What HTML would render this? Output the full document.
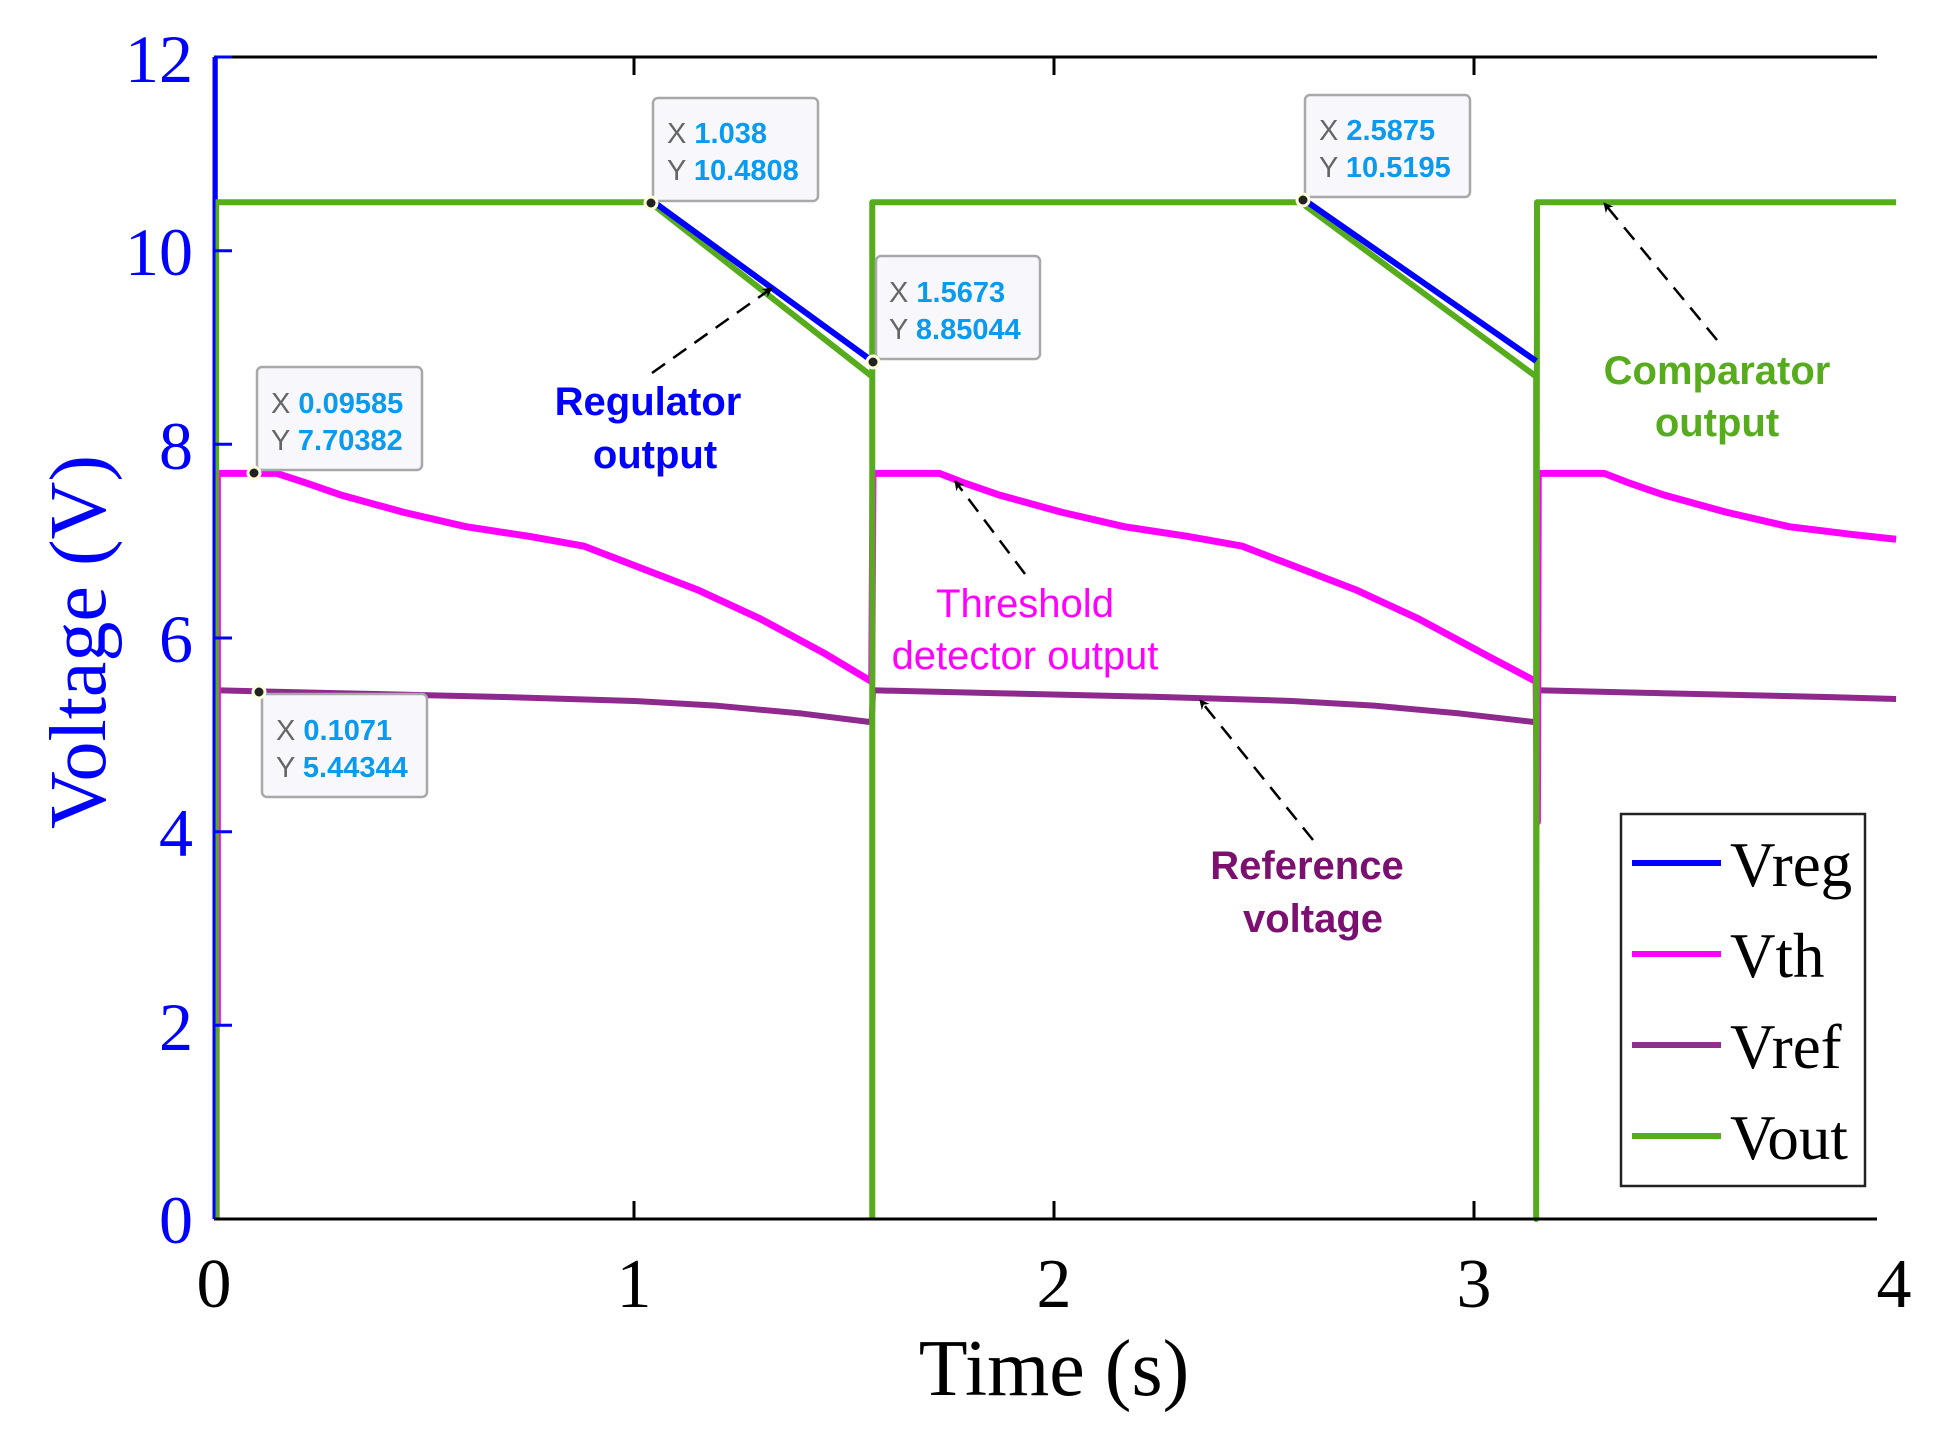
<!DOCTYPE html>
<html><head><meta charset="utf-8"><style>
html,body{margin:0;padding:0;background:#fff;}
svg{display:block;}
.tk{font-family:"Liberation Serif",serif;}
.ann{font-family:"Liberation Sans",sans-serif;font-size:29px;}
</style></head><body>
<svg width="1935" height="1438" viewBox="0 0 1935 1438" xmlns="http://www.w3.org/2000/svg">
<defs>
<marker id="ah" viewBox="0 0 10 10" refX="9" refY="5" markerWidth="10" markerHeight="10" orient="auto" markerUnits="userSpaceOnUse">
<path d="M0,0 L10,5 L0,10 L3,5 z" fill="#000"/>
</marker>
</defs>
<rect width="1935" height="1438" fill="#fff"/>
<g transform="translate(214,1219) scale(420,-96.83)" fill="none" stroke-linejoin="round">
<path vector-effect="non-scaling-stroke" stroke="#0000ff" stroke-width="5" d="M0.003,12 L0.003,10.5"/>
<path vector-effect="non-scaling-stroke" stroke="#8e2a8e" stroke-width="6" d="M0.006,0 L0.006,5.46 L0.3,5.43 L0.7,5.39 L1.0,5.35 L1.2,5.3 L1.4,5.22 L1.566,5.13 L1.569,5.46 L1.8673,5.43 L2.2673,5.39 L2.5673,5.35 L2.7673,5.3 L2.9673,5.22 L3.148,5.13 L3.152,5.46 L3.45,5.43 L3.85,5.39 L4.005,5.37"/>
<path vector-effect="non-scaling-stroke" stroke="#ff00ff" stroke-width="7" d="M0.008,2 L0.008,7.7 L0.15,7.7 L0.22,7.6 L0.3,7.48 L0.45,7.3 L0.6,7.15 L0.75,7.05 L0.88,6.95 L1.0,6.75 L1.15,6.5 L1.3,6.2 L1.45,5.85 L1.566,5.55 L1.569,7.7 L1.7273,7.7 L1.7873,7.6 L1.8673,7.48 L2.0173,7.3 L2.1673,7.15 L2.3173,7.05 L2.4473,6.95 L2.5673,6.75 L2.7173,6.5 L2.8673,6.2 L3.0173,5.85 L3.148,5.55 L3.151,4.1 L3.153,7.7 L3.31,7.7 L3.37,7.6 L3.45,7.48 L3.6,7.3 L3.75,7.15 L3.9,7.07 L4.005,7.02"/>
<path vector-effect="non-scaling-stroke" stroke="#56ac1d" stroke-width="6" d="M0.005,0 L0.005,10.5 L1.038,10.5 L1.5673,8.7 L1.5673,0 M1.5673,0 L1.5673,10.5 L2.5875,10.5 L3.148,8.7 L3.148,0 L3.15,10.5 L4.005,10.5"/>
<path vector-effect="non-scaling-stroke" stroke="#0000ff" stroke-width="6" d="M1.048,10.5 L1.5673,8.86 M2.5975,10.52 L3.148,8.86"/>
</g>
<g stroke="#000" stroke-width="3" fill="none">
<line x1="214" y1="1219" x2="1877" y2="1219"/>
<line x1="214" y1="57" x2="1877" y2="57"/>
<line x1="634" y1="1219" x2="634" y2="1201"/><line x1="1054" y1="1219" x2="1054" y2="1201"/><line x1="1474" y1="1219" x2="1474" y2="1201"/>
<line x1="634" y1="57" x2="634" y2="75"/><line x1="1054" y1="57" x2="1054" y2="75"/><line x1="1474" y1="57" x2="1474" y2="75"/>
</g>
<g stroke="#0000ff" stroke-width="3">
<line x1="214" y1="57" x2="214" y2="1219"/>
<line x1="214" y1="57" x2="232" y2="57"/>
<line x1="214" y1="250.7" x2="232" y2="250.7"/>
<line x1="214" y1="444.3" x2="232" y2="444.3"/>
<line x1="214" y1="638" x2="232" y2="638"/>
<line x1="214" y1="831.7" x2="232" y2="831.7"/>
<line x1="214" y1="1025.3" x2="232" y2="1025.3"/>
</g>
<g class="tk" fill="#0000ff" font-size="68" text-anchor="end">
<text x="193" y="82">12</text>
<text x="193" y="275">10</text>
<text x="193" y="469">8</text>
<text x="193" y="662">6</text>
<text x="193" y="856">4</text>
<text x="193" y="1050">2</text>
<text x="193" y="1243">0</text>
</g>
<g class="tk" fill="#000" font-size="70" text-anchor="middle">
<text x="214" y="1307">0</text>
<text x="634" y="1307">1</text>
<text x="1054" y="1307">2</text>
<text x="1474" y="1307">3</text>
<text x="1894" y="1307">4</text>
</g>
<text class="tk" x="1054" y="1395" font-size="80" text-anchor="middle" fill="#000">Time (s)</text>
<text class="tk" transform="translate(105,642) rotate(-90)" font-size="80" text-anchor="middle" fill="#0000ff">Voltage (V)</text>
<g class="ann">
<rect x="257" y="367" width="165" height="103" rx="5" fill="#f8f8fc" stroke="#a8a8a8" stroke-width="2.5"/>
<text x="271" y="413" fill="#666">X <tspan fill="#0a9af0" font-weight="bold">0.09585</tspan></text>
<text x="271" y="450" fill="#666">Y <tspan fill="#0a9af0" font-weight="bold">7.70382</tspan></text>
<rect x="262" y="694" width="165" height="103" rx="5" fill="#f8f8fc" stroke="#a8a8a8" stroke-width="2.5"/>
<text x="276" y="740" fill="#666">X <tspan fill="#0a9af0" font-weight="bold">0.1071</tspan></text>
<text x="276" y="777" fill="#666">Y <tspan fill="#0a9af0" font-weight="bold">5.44344</tspan></text>
<rect x="653" y="98" width="165" height="103" rx="5" fill="#f8f8fc" stroke="#a8a8a8" stroke-width="2.5"/>
<text x="667" y="143" fill="#666">X <tspan fill="#0a9af0" font-weight="bold">1.038</tspan></text>
<text x="667" y="180" fill="#666">Y <tspan fill="#0a9af0" font-weight="bold">10.4808</tspan></text>
<rect x="876" y="256" width="164" height="103" rx="5" fill="#f8f8fc" stroke="#a8a8a8" stroke-width="2.5"/>
<text x="889" y="302" fill="#666">X <tspan fill="#0a9af0" font-weight="bold">1.5673</tspan></text>
<text x="889" y="339" fill="#666">Y <tspan fill="#0a9af0" font-weight="bold">8.85044</tspan></text>
<rect x="1305" y="95" width="165" height="102" rx="5" fill="#f8f8fc" stroke="#a8a8a8" stroke-width="2.5"/>
<text x="1319" y="140" fill="#666">X <tspan fill="#0a9af0" font-weight="bold">2.5875</tspan></text>
<text x="1319" y="177" fill="#666">Y <tspan fill="#0a9af0" font-weight="bold">10.5195</tspan></text>
</g>
<g fill="#222" stroke="#ffffdd" stroke-width="3">
<circle cx="254" cy="473" r="6"/>
<circle cx="259" cy="692" r="6"/>
<circle cx="651" cy="203" r="6"/>
<circle cx="873" cy="362" r="6"/>
<circle cx="1303" cy="200" r="6"/>
</g>
<g stroke="#000" stroke-width="2.5" stroke-dasharray="16,10" marker-end="url(#ah)" fill="none">
<line x1="652" y1="373" x2="772" y2="288"/>
<line x1="1025" y1="574" x2="955" y2="481"/>
<line x1="1313" y1="840" x2="1200" y2="700"/>
<line x1="1717" y1="340" x2="1604" y2="203"/>
</g>
<g font-family="Liberation Sans, sans-serif" font-size="40" text-anchor="middle">
<text x="648" y="415" fill="#0000ff" font-weight="bold">Regulator</text>
<text x="655" y="468" fill="#0000ff" font-weight="bold">output</text>
<text x="1717" y="384" fill="#56ac1d" font-weight="bold">Comparator</text>
<text x="1717" y="436" fill="#56ac1d" font-weight="bold">output</text>
<text x="1025" y="617" fill="#ff00ff">Threshold</text>
<text x="1025" y="669" fill="#ff00ff">detector output</text>
<text x="1307" y="879" fill="#7b1070" font-weight="bold">Reference</text>
<text x="1313" y="932" fill="#7b1070" font-weight="bold">voltage</text>
</g>
<rect x="1621" y="814" width="244" height="372" fill="#fff" stroke="#222" stroke-width="2.5"/>
<g stroke-width="6">
<line x1="1632" y1="863" x2="1721" y2="863" stroke="#0000ff"/>
<line x1="1632" y1="954" x2="1721" y2="954" stroke="#ff00ff"/>
<line x1="1632" y1="1045" x2="1721" y2="1045" stroke="#902f90"/>
<line x1="1632" y1="1136" x2="1721" y2="1136" stroke="#56ac1d"/>
</g>
<g class="tk" font-size="63" fill="#000">
<text x="1730" y="886">Vreg</text>
<text x="1730" y="977">Vth</text>
<text x="1730" y="1068">Vref</text>
<text x="1730" y="1159">Vout</text>
</g>
</svg>
</body></html>
